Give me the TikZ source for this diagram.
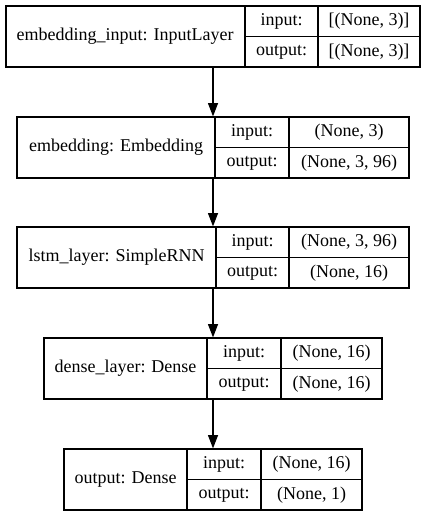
\documentclass[tikz,border=0pt]{standalone}
\usepackage{fontspec}
\setmainfont{Liberation Serif}
\usepackage{tikz}
\usetikzlibrary{arrows.meta}

\begin{document}
\begin{tikzpicture}[x=0.75pt, y=-0.75pt]
	\tikzstyle{layer} = [rectangle, draw=black, line width=0.9pt, inner sep=0pt, minimum height=45.75pt]
	\tikzstyle{cell} = [inner sep=0pt, font=\fontsize{13.5}{16}\selectfont]
	\tikzstyle{grid} = [line width=0.9pt]
	\tikzstyle{edge} = [-{Triangle[length=10pt,width=7.5pt]}, line width=0.9pt]
	\useasboundingbox (0,0) rectangle (427,516);
	% layer records
	\node[layer, minimum width=310.5pt](input) at (213,36.5){};
	\node[layer, minimum width=294pt](embedding) at (213,147.5){};
	\node[layer, minimum width=294pt](lstm) at (213,257.5){};
	\node[layer, minimum width=253.5pt](dense) at (213,368.5){};
	\node[layer, minimum width=223.5pt](output) at (213,479.5){};
	% cell borders
	\draw[grid] (245,6) -- (245,67) (318,6) -- (318,67) (245,36.5) -- (input.east);
	\draw[grid] (215,117) -- (215,178) (289,117) -- (289,178) (215,147.5) -- (embedding.east);
	\draw[grid] (216,227) -- (216,288) (289,227) -- (289,288) (216,257.5) -- (lstm.east);
	\draw[grid] (207,338) -- (207,399) (281,338) -- (281,399) (207,368.5) -- (dense.east);
	\draw[grid] (187,449) -- (187,510) (261,449) -- (261,510) (187,479.5) -- (output.east);
	% texts
	\node[cell](inputname) at (125,36.5){embedding\_input: InputLayer};
	\node[cell](inputin) at (281.5,21.5){input:};
	\node[cell](inputinval) at (369,21.5){[(None, 3)]};
	\node[cell](inputout) at (281.5,52){output:};
	\node[cell](inputoutval) at (369,52){[(None, 3)]};
	\node[cell](embeddingname) at (116,147.5){embedding: Embedding};
	\node[cell](embeddingin) at (252,132){input:};
	\node[cell](embeddinginval) at (349,132){(None, 3)};
	\node[cell](embeddingout) at (252,163){output:};
	\node[cell](embeddingoutval) at (349,163){(None, 3, 96)};
	\node[cell](lstmname) at (116.5,257.5){lstm\_layer: SimpleRNN};
	\node[cell](lstmin) at (252.5,242.5){input:};
	\node[cell](lstminval) at (349,242.5){(None, 3, 96)};
	\node[cell](lstmout) at (252.5,273){output:};
	\node[cell](lstmoutval) at (349,273){(None, 16)};
	\node[cell](densename) at (125.5,368.5){dense\_layer: Dense};
	\node[cell](densein) at (244,353.5){input:};
	\node[cell](denseinval) at (331.5,353.5){(None, 16)};
	\node[cell](denseout) at (244,384){output:};
	\node[cell](denseoutval) at (331.5,384){(None, 16)};
	\node[cell](outputname) at (125.5,479.5){output: Dense};
	\node[cell](outputin) at (224,464){input:};
	\node[cell](outputinval) at (311.5,464){(None, 16)};
	\node[cell](outputout) at (224,495){output:};
	\node[cell](outputoutval) at (311.5,495){(None, 1)};
	% flow
	\draw[edge](input) -- (embedding);
	\draw[edge](embedding) -- (lstm);
	\draw[edge](lstm) -- (dense);
	\draw[edge](dense) -- (output);
\end{tikzpicture}
\end{document}
